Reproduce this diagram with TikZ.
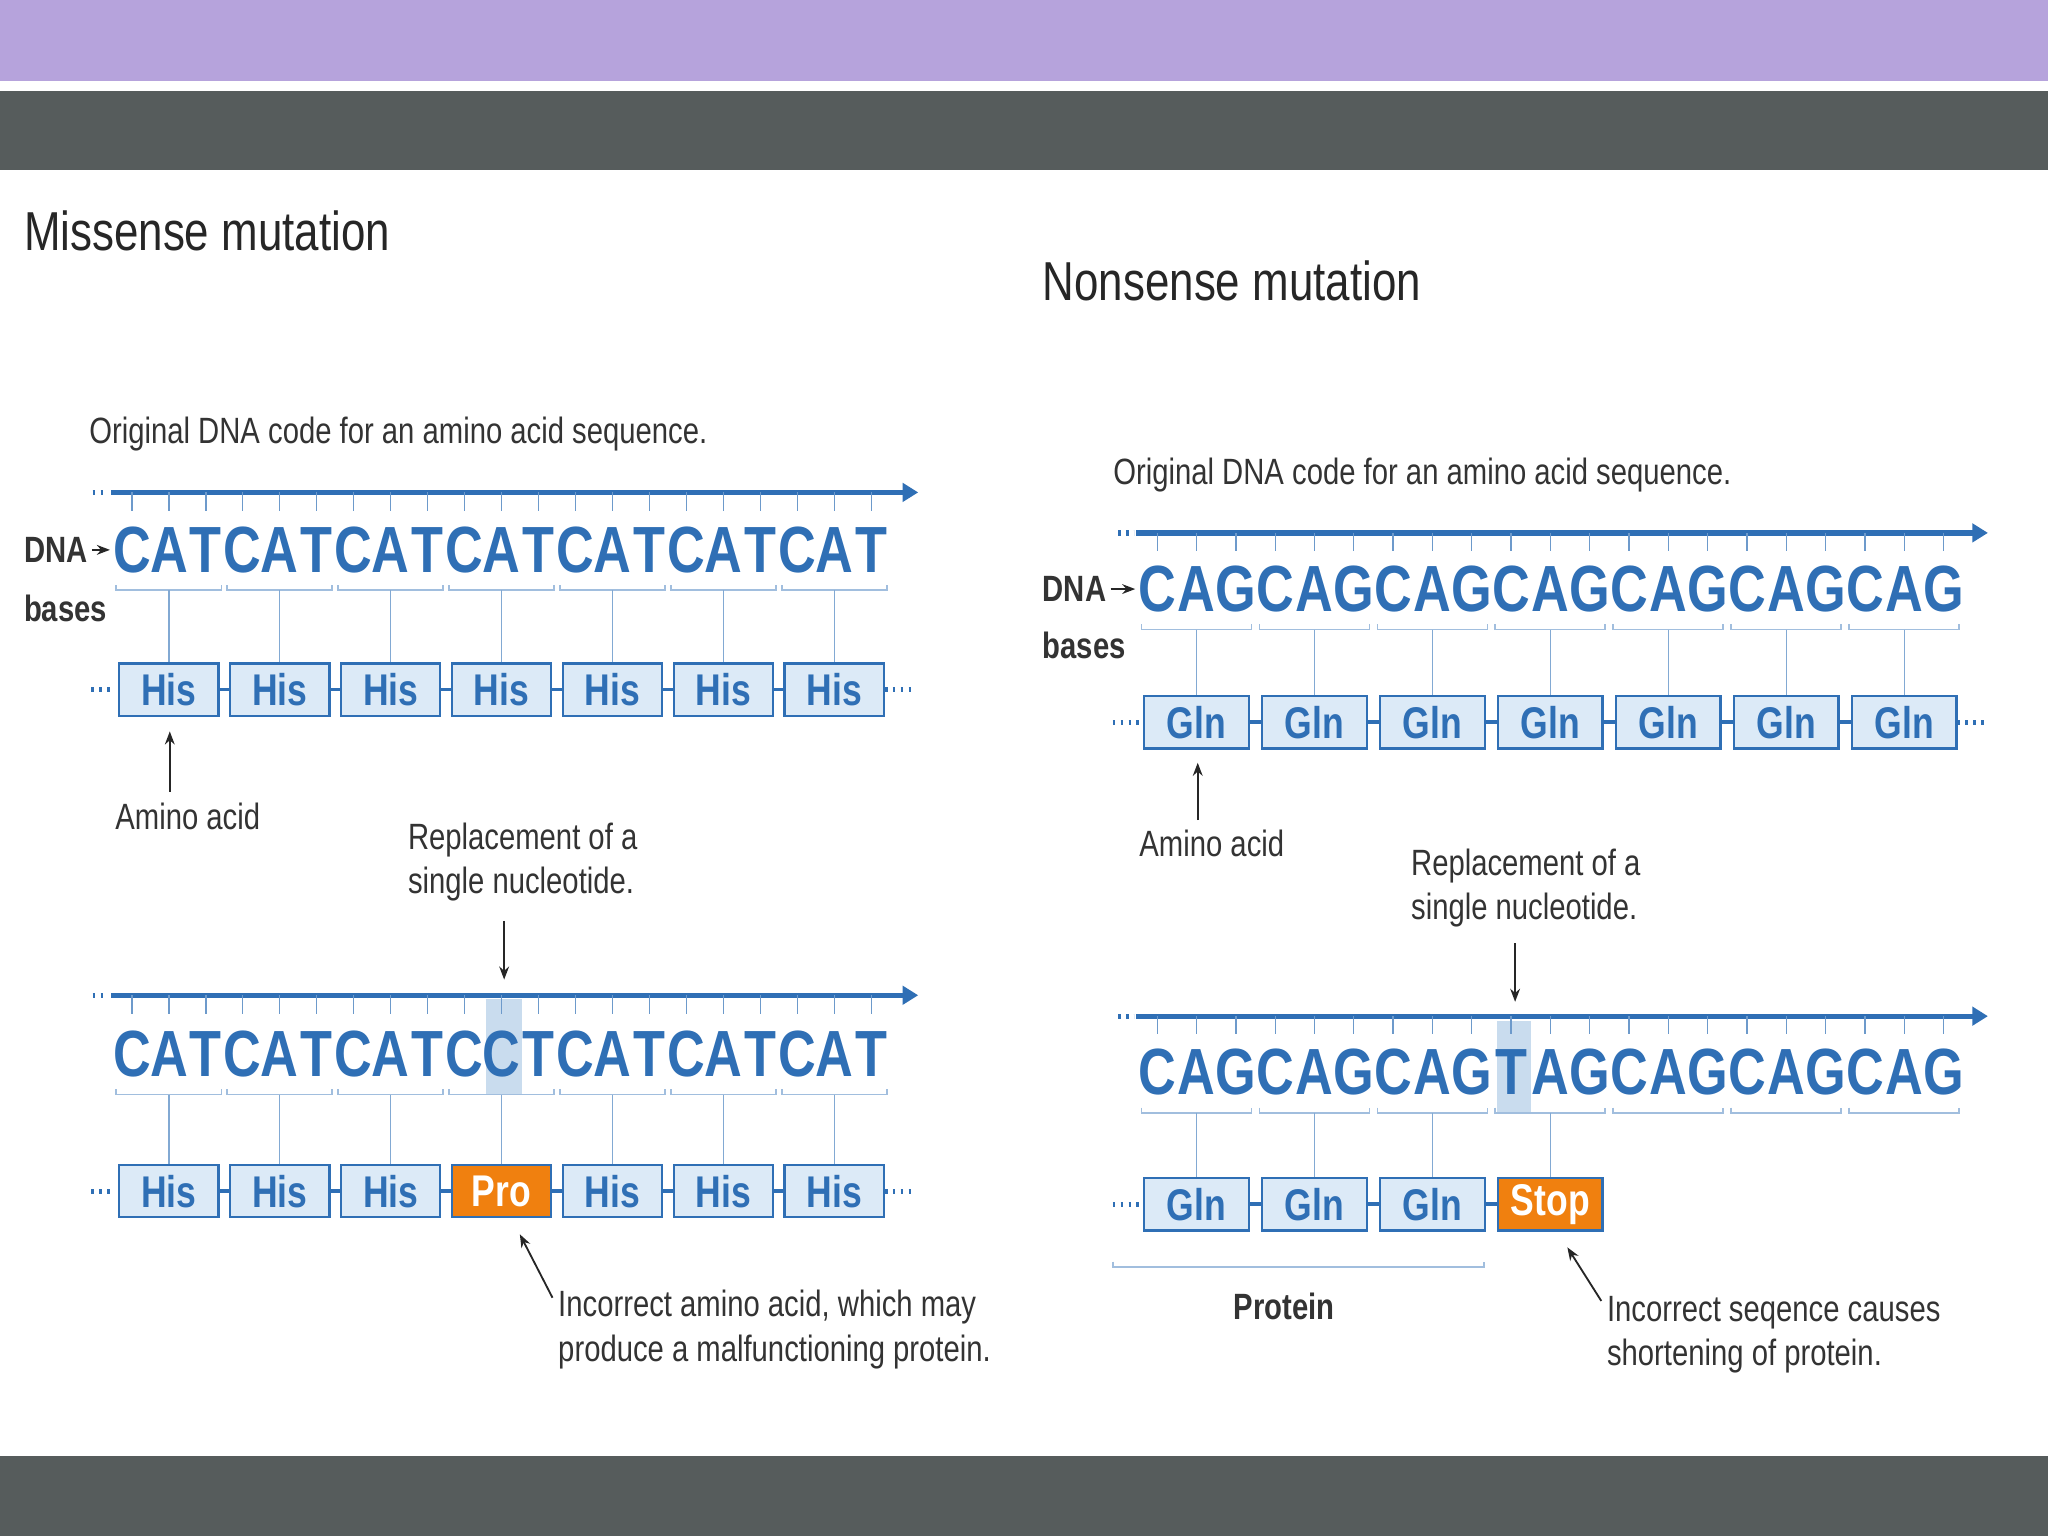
\documentclass[tikz,border=0pt]{standalone}
\usepackage{fontspec}
\setmainfont{Liberation Sans}[FakeStretch=0.8]
\usetikzlibrary{arrows.meta}
\definecolor{dnab}{HTML}{2F6FB5}
\definecolor{boxfill}{HTML}{DCEAF7}
\definecolor{hl}{HTML}{C9DCEE}
\definecolor{org}{HTML}{F0800F}
\definecolor{band}{HTML}{B6A3DC}
\definecolor{dgray}{HTML}{565C5C}
\tikzset{
  base/.style={text=dnab,font=\fontsize{25}{25}\selectfont\bfseries,inner sep=0pt},
  lab/.style={font=\fontsize{14}{17}\selectfont,text=black!80,anchor=west,align=left,inner sep=0pt},
  ttl/.style={font=\fontsize{21}{24}\selectfont,text=black!85,anchor=west,inner sep=0pt},
  aabox/.style={draw=dnab,line width=0.9pt,fill=boxfill,minimum width=38pt,minimum height=20pt,inner sep=0pt,text=dnab,font=\fontsize{17}{17}\selectfont\bfseries},
  orbox/.style={aabox,fill=org,text=white},
  tickl/.style={draw=dnab!70,line width=0.5pt},
  brk/.style={draw=dnab!45,line width=0.7pt},
  vl/.style={draw=dnab!60,line width=0.5pt},
  link/.style={draw=dnab,line width=1.4pt},
  strand/.style={draw=dnab,line width=2pt,-{Triangle[length=6pt,width=7pt]}},
  dots/.style={draw=dnab,line width=2pt,dash pattern=on 1pt off 2pt},
  pt/.style={-{Stealth[length=5pt]},line width=0.7pt,black!85}
}
% #1 prefix, #2 x0, #3 d, #4 yline, #5 yletter, #6 ybracket, #7 letters, #8 xend
\newcommand\seqrow[8]{%
  \draw[dots] ({#2-30},#4) -- ({#2-18},#4);
  \draw[strand] ({#2-16},#4) -- (#8,#4);
  \foreach \L [count=\i from 0] in {#7}{%
    \node[base] (#1l\i) at ({#2+\i*#3},#5) {\L};
    \draw[tickl] ({#2+\i*#3},#4) -- ++(0,14);
  }
  \foreach \k in {0,...,6}{%
    \draw[brk] ({#2+3*\k*#3-12},{#6-4}) -- ({#2+3*\k*#3-12},#6) -- ({#2+(3*\k+2)*#3+12},#6) -- ++(0,-4);
  }
}
\begin{document}
\begin{tikzpicture}[x=0.5pt,y=-0.5pt]
\useasboundingbox (0,0) rectangle (1568,1176);
\fill[white] (0,0) rectangle (1568,1176);
\fill[band] (0,0) rectangle (1568,62);
\fill[dgray] (0,70) rectangle (1568,130);
\fill[dgray] (0,1115) rectangle (1568,1176);

\node[ttl] (t1) at (18,177) {Missense mutation};
\node[ttl] (t2) at (798,215) {Nonsense mutation};

% ---------- LEFT ----------
\node[lab] (o1) at (68,332) {Original DNA code for an amino acid sequence.};
\seqrow{a}{101}{28.3}{377}{421}{452}{C,A,T,C,A,T,C,A,T,C,A,T,C,A,T,C,A,T,C,A,T}{703}
\node[lab] (dna1) at (18,421) {\textbf{DNA}};
\node[lab] (bs1) at (18,466) {\textbf{bases}};
\draw[pt] ([xshift=1.5pt]dna1.east) -- ([xshift=-1pt]al0.west);
\draw[dots] (70,528) -- (88,528);
\foreach \k in {0,...,6}{
  \node[aabox] (ab\k) at ({129.3+84.9*\k},528) {His};
  \draw[vl] ({129.3+84.9*\k},452) -- (ab\k.north);
}
\foreach \k [evaluate=\k as \n using int(\k+1)] in {0,...,5}{\draw[link] (ab\k.east) -- (ab\n.west);}
\draw[dots] (ab6.east) -- (700,528);
\node[lab] (aa1) at (88,625) {Amino acid};
\draw[pt] (130,606) -- (130,560);
\node[lab] (r1) at (312,660) {Replacement of a\\single nucleotide.};

\fill[hl] (372,765) rectangle (400,838);
\seqrow{b}{101}{28.3}{762}{807}{838}{C,A,T,C,A,T,C,A,T,C,C,T,C,A,T,C,A,T,C,A,T}{703}
\draw[pt] (386,705) -- (386,750);
\draw[dots] (70,912) -- (88,912);
\foreach \k/\t in {0/His,1/His,2/His,4/His,5/His,6/His}{
  \node[aabox] (bb\k) at ({129.3+84.9*\k},912) {\t};
  \draw[vl] ({129.3+84.9*\k},838) -- (bb\k.north);
}
\node[orbox] (bb3) at ({129.3+84.9*3},912) {Pro};
\draw[vl] ({129.3+84.9*3},838) -- (bb3.north);
\foreach \k [evaluate=\k as \n using int(\k+1)] in {0,...,5}{\draw[link] (bb\k.east) -- (bb\n.west);}
\draw[dots] (bb6.east) -- (700,912);
\node[lab] (inc1) at (427,1018) {Incorrect amino acid, which may\\produce a malfunctioning protein.};
\draw[pt] ([xshift=-2pt,yshift=-3pt]inc1.north west) -- (398,945);

% ---------- RIGHT ----------
\node[lab] (o2) at (852,364) {Original DNA code for an amino acid sequence.};
\seqrow{c}{886}{30.1}{408}{451}{482}{C,A,G,C,A,G,C,A,G,C,A,G,C,A,G,C,A,G,C,A,G}{1522}
\node[lab] (dna2) at (798,451) {\textbf{DNA}};
\node[lab] (bs2) at (798,494) {\textbf{bases}};
\draw[pt] ([xshift=1.5pt]dna2.east) -- ([xshift=-1pt]cl0.west);
\draw[dots] (852,553) -- (872,553);
\foreach \k in {0,...,6}{
  \node[aabox,minimum width=40pt] (cb\k) at ({916.1+90.3*\k},553) {Gln};
  \draw[vl] ({916.1+90.3*\k},482) -- (cb\k.north);
}
\foreach \k [evaluate=\k as \n using int(\k+1)] in {0,...,5}{\draw[link] (cb\k.east) -- (cb\n.west);}
\draw[dots] (cb6.east) -- (1520,553);
\node[lab] (aa2) at (872,646) {Amino acid};
\draw[pt] (917,628) -- (917,584);
\node[lab] (r2) at (1080,680) {Replacement of a\\single nucleotide.};

\fill[hl] (1146,782) rectangle (1172,852);
\seqrow{d}{886}{30.1}{778}{821}{852}{C,A,G,C,A,G,C,A,G,T,A,G,C,A,G,C,A,G,C,A,G}{1522}
\draw[pt] (1160,722) -- (1160,767);
\draw[dots] (852,922) -- (872,922);
\foreach \k in {0,1,2}{
  \node[aabox,minimum width=40pt] (db\k) at ({916.1+90.3*\k},922) {Gln};
  \draw[vl] ({916.1+90.3*\k},852) -- (db\k.north);
}
\node[orbox,minimum width=40pt] (db3) at ({916.1+90.3*3},922) {Stop};
\draw[vl] ({916.1+90.3*3},852) -- (db3.north);
\foreach \k [evaluate=\k as \n using int(\k+1)] in {0,1,2}{\draw[link] (db\k.east) -- (db\n.west);}
\draw[brk] (852,966) -- (852,970) -- (1136,970) -- (1136,966);
\node[lab] (prot) at (944,1000) {\textbf{Protein}};
\node[lab] (inc2) at (1230,1022) {Incorrect seqence causes\\shortening of protein.};
\draw[pt] ([xshift=-2pt,yshift=-2pt]inc2.north west) -- (1200,955);
\end{tikzpicture}
\end{document}
